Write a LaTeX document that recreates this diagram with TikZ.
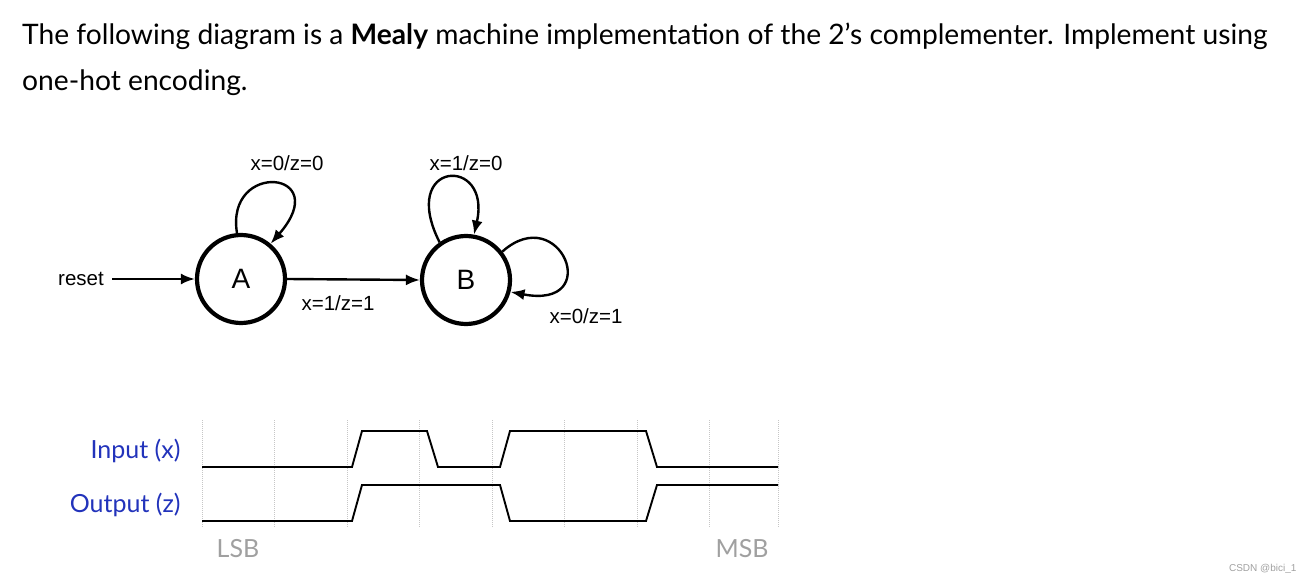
\documentclass[tikz,border=0pt]{standalone}
\usepackage{fontspec}
\setmainfont{Lato}
\newfontfamily\arialf{Liberation Sans}
\usetikzlibrary{arrows.meta}
\definecolor{lblue}{HTML}{2233BB}
\definecolor{lgray}{HTML}{A0A0A0}
\begin{document}
\begin{tikzpicture}[x=1pt,y=-1pt,
  st/.style={circle,draw,line width=4.2pt,minimum size=88pt,inner sep=0pt,font=\arialf\fontsize{28}{28}\selectfont},
  lbl/.style={font=\arialf\fontsize{20.5}{20.5}\selectfont,inner sep=0pt},
  tr/.style={line width=2.4pt,-{Latex[length=14pt,width=11pt]}},
  wave/.style={line width=1.9pt},
  grid/.style={densely dotted,lgray!60,line width=1pt},
  hdr/.style={font=\fontsize{28.2}{28.2}\selectfont,anchor=base west,inner sep=0pt}]
\useasboundingbox (0,0) rectangle (1313,585);
\node[hdr] (h1) at (22,45) {The following diagram is a \textbf{Mealy} machine implementation of the 2's complementer. Implement using};
\node[hdr] (h2) at (22,91) {one-hot encoding.};
\node[st] (A) at (241,279) {A};
\node[st] (B) at (466,280) {B};
\node[lbl,anchor=east] (rs) at (104,279) {reset};
\draw[tr] (rs.east)++(8,0) coordinate (r0) (r0) -- (A.west);
\draw[tr] (A.east) -- (B.west);
\node[lbl] (l1) at (338,303) {x=1/z=1};
\draw[tr] (A.95) .. controls (225,160) and (335,170) .. (A.50);
\node[lbl] (l0) at (287,163) {x=0/z=0};
\draw[tr] (B.125) .. controls (398,160) and (492,155) .. (B.80);
\node[lbl] (l2) at (466,163) {x=1/z=0};
\draw[tr] (B.38) .. controls (560,200) and (605,310) .. (B.-15);
\node[lbl] (l3) at (586,316) {x=0/z=1};
\foreach \x in {202,274.5,347,419.5,492,564.5,637,709.5,778}
  \draw[grid] (\x,420) -- (\x,527);
\draw[wave] (202,467) -- (352,467) -- (362,431) -- (427,431) -- (438,467) -- (500,467) -- (510,431) -- (646,431) -- (657,467) -- (778,467);
\draw[wave] (202,521) -- (352,521) -- (362,485) -- (500,485) -- (510,521) -- (646,521) -- (657,485) -- (778,485);
\node[anchor=east,text=lblue,font=\fontsize{25}{25}\selectfont] (in) at (184,451) {Input (x)};
\node[anchor=east,text=lblue,font=\fontsize{25}{25}\selectfont] (out) at (184,505) {Output (z)};
\node[text=lgray,font=\fontsize{25}{25}\selectfont] (lsb) at (238,549) {LSB};
\node[text=lgray,font=\fontsize{25}{25}\selectfont] (msb) at (742,549) {MSB};
\node[anchor=east,text=lgray,font=\arialf\fontsize{10}{10}\selectfont] (c) at (1300,569) {CSDN @bici\_1};
\end{tikzpicture}
\end{document}
